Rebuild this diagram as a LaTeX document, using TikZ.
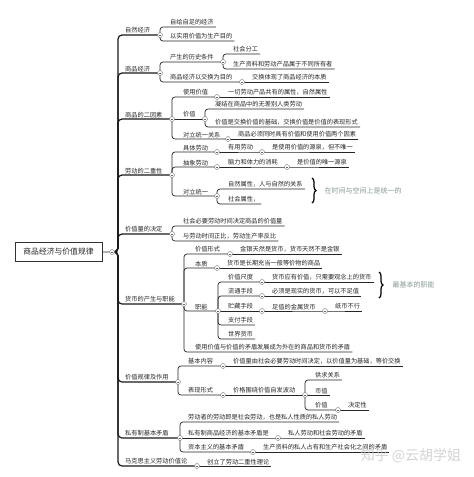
\documentclass[tikz,border=0pt]{standalone}
\usepackage{fontspec}
\setmainfont{Noto Sans CJK SC}
\usetikzlibrary{backgrounds,decorations.pathreplacing}
\definecolor{remarkgray}{RGB}{135,155,146}

\begin{document}
\begin{tikzpicture}[x=1pt, y=-1pt,
  topic/.style={anchor=south west, inner xsep=2pt, inner ysep=1.3pt, text=black!85,
    font=\fontsize{6.2}{7}\selectfont},
  rootbox/.style={draw=black!80, line width=0.6pt, fill=white, minimum width=87pt,
    minimum height=19pt, inner sep=0pt, text=black!85, font=\fontsize{7.8}{9}\selectfont},
  knob/.style={circle, draw=black!55, fill=white, inner sep=0pt, minimum size=5pt, line width=0.4pt,
    path picture={\draw[black!60, line width=0.4pt] ([xshift=1.2pt]path picture bounding box.west)
      -- ([xshift=-1.2pt]path picture bounding box.east);}},
  limb/.style={line width=1.2pt, rounded corners=4pt, black!90},
  twig/.style={line width=0.7pt, rounded corners=3pt, black!85},
  remark/.style={anchor=west, text=remarkgray, font=\fontsize{7}{8}\selectfont},
  hold/.style={decorate, decoration={brace, amplitude=4pt}, line width=1.2pt}]
  \useasboundingbox (0,0) rectangle (474,477);

  % root
  \node[rootbox] (root) at (58.5,251.5) {商品经济与价值规律};
  \node[knob] (r0) at (112,252) {};
  \coordinate (trunk) at (118,252);

  % first level
  \node[topic] (a) at (123,35) {自然经济};          \node[knob] (ka) at (160,35) {};
  \node[topic] (b) at (123,73) {商品经济};          \node[knob] (kb) at (160,73) {};
  \node[topic] (c) at (123,119) {商品的二因素};     \node[knob] (kc) at (172,119) {};
  \node[topic] (d) at (123,175) {劳动的二重性};     \node[knob] (kd) at (172,175) {};
  \node[topic] (e) at (123,234) {价值量的决定};     \node[knob] (ke) at (172,234) {};
  \node[topic] (f) at (123,304) {货币的产生与职能}; \node[knob] (kf) at (184,304) {};
  \node[topic] (g) at (123,382) {价值规律及作用};   \node[knob] (kg) at (178,382) {};
  \node[topic] (h) at (123,438) {私有制基本矛盾};   \node[knob] (kh) at (180,438) {};
  \node[topic] (i) at (123,466) {马克思主义劳动价值论}; \node[knob] (ki) at (197,466) {};

  % 自然经济
  \node[topic] (a1) at (168,27) {自给自足的经济};
  \node[topic] (a2) at (168,41) {以实用价值为生产目的};

  % 商品经济
  \node[topic] (b1) at (168,62) {产生的历史条件};     \node[knob] (kb1) at (223,62) {};
  \node[topic] (b11) at (231,54) {社会分工};
  \node[topic] (b12) at (231,69) {生产资料和劳动产品属于不同所有者};
  \node[topic] (b2) at (168,82) {商品经济以交换为目的}; \node[knob] (kb2) at (242,82) {};
  \node[topic] (b21) at (250,82) {交换体现了商品经济的本质};

  % 商品的二因素
  \node[topic] (c1) at (181,97) {使用价值};           \node[knob] (kc1) at (217,97) {};
  \node[topic] (c11) at (226,97) {一切劳动产品共有的属性，自然属性};
  \node[topic] (c2) at (181,119) {价值};              \node[knob] (kc2) at (205,119) {};
  \node[topic] (c21) at (213,109) {凝结在商品中的无差别人类劳动};
  \node[topic] (c22) at (213,127) {价值是交换价值的基础，交换价值是价值的表现形式};
  \node[topic] (c3) at (181,139) {对立统一关系};       \node[knob] (kc3) at (228,139) {};
  \node[topic] (c31) at (236,139) {商品必须同时具有价值和使用价值两个因素};

  % 劳动的二重性
  \node[topic] (d1) at (181,152) {具体劳动};           \node[knob] (kd1) at (217,152) {};
  \node[topic] (d11) at (226,152) {有用劳动};          \node[knob] (kd11) at (262,152) {};
  \node[topic] (d111) at (270,152) {是使用价值的源泉，但不唯一};
  \node[topic] (d2) at (181,167) {抽象劳动};           \node[knob] (kd2) at (217,167) {};
  \node[topic] (d21) at (226,167) {脑力和体力的消耗};  \node[knob] (kd21) at (287,167) {};
  \node[topic] (d211) at (295,167) {是价值的唯一源泉};
  \node[topic] (d3) at (181,196) {对立统一};           \node[knob] (kd3) at (217,196) {};
  \node[topic] (d31) at (226,189) {自然属性，人与自然的关系};
  \node[topic] (d32) at (226,204) {社会属性，};
  \coordinate (d3top) at (312,178);
  \coordinate (d3bot) at (312,203);
  \node[remark] (d3note) at (321,191) {在时间与空间上是统一的};

  % 价值量的决定
  \node[topic] (e1) at (181,226) {社会必要劳动时间决定商品的价值量};
  \node[topic] (e2) at (181,241) {与劳动时间正比，劳动生产率反比};

  % 货币的产生与职能
  \node[topic] (f1) at (193,254) {价值形式};           \node[knob] (kf1) at (230,254) {};
  \node[topic] (f11) at (238,254) {金银天然是货币，货币天然不是金银};
  \node[topic] (f2) at (193,268) {本质};               \node[knob] (kf2) at (217,268) {};
  \node[topic] (f21) at (225,268) {货币是长期充当一般等价物的商品};
  \node[topic] (f3) at (193,311) {职能};               \node[knob] (kf3) at (218,311) {};
  \node[topic] (f31) at (226,282) {价值尺度};          \node[knob] (kf31) at (262,282) {};
  \node[topic] (f311) at (270,282) {货币应有价值，只需要观念上的货币};
  \node[topic] (f32) at (226,296) {流通手段};          \node[knob] (kf32) at (262,296) {};
  \node[topic] (f321) at (270,296) {必须是现实的货币，可以不足值};
  \node[topic] (f33) at (226,311) {贮藏手段};          \node[knob] (kf33) at (262,311) {};
  \node[topic] (f331) at (270,311) {足值的金属货币};    \node[knob] (kf331) at (325,311) {};
  \node[topic] (f3311) at (333,311) {纸币不行};
  \node[topic] (f34) at (226,325) {支付手段};
  \node[topic] (f35) at (226,339) {世界货币};
  \coordinate (f3top) at (379,272);
  \coordinate (f3bot) at (379,298);
  \node[remark] (f3note) at (389,285) {最基本的职能};
  \node[topic] (f4) at (193,352) {使用价值与价值的矛盾发展成为外在的商品和货币的矛盾};

  % 价值规律及作用
  \node[topic] (g1) at (186,366) {基本内容};           \node[knob] (kg1) at (223,366) {};
  \node[topic] (g11) at (231,366) {价值量由社会必要劳动时间决定，以价值量为基础，等价交换};
  \node[topic] (g2) at (186,395) {表现形式};           \node[knob] (kg2) at (223,395) {};
  \node[topic] (g21) at (231,395) {价格围绕价值自发波动}; \node[knob] (kg21) at (305,395) {};
  \node[topic] (g211) at (313,380) {供求关系};
  \node[topic] (g212) at (313,395) {币值};
  \node[topic] (g213) at (313,410) {价值};             \node[knob] (kg213) at (338,410) {};
  \node[topic] (g2131) at (346,410) {决定性};

  % 私有制基本矛盾
  \node[topic] (h1) at (186,422) {劳动者的劳动即是社会劳动，也是私人性质的私人劳动};
  \node[topic] (h2) at (186,438) {私有制商品经济的基本矛盾是}; \node[knob] (kh2) at (278,438) {};
  \node[topic] (h21) at (286,438) {私人劳动和社会劳动的矛盾};
  \node[topic] (h3) at (186,452) {资本主义的基本矛盾};  \node[knob] (kh3) at (253,452) {};
  \node[topic] (h31) at (261,452) {生产资料的私人占有和生产社会化之间的矛盾};

  % 马克思主义劳动价值论
  \node[topic] (i1) at (205,466) {创立了劳动二重性理论};

  % watermark
  \node[text=gray!40, opacity=0.85, font=\fontsize{14}{16}\selectfont] (mark0) at (411,456) {知乎 @云胡学姐};

  \begin{pgfonlayer}{background}
    \fill[white] (0,0) rectangle (474,477);
    \draw[twig] (root) -- (r0);
    \foreach \k in {ka,kb,kc,kd,ke,kf,kg,kh,ki}
      \draw[limb] (r0.center) -- (trunk) |- (\k.center);
    % 自然经济
    \foreach \c in {a1,a2} \draw[twig] (ka.center) |- (\c.south east);
    % 商品经济
    \foreach \k in {kb1,kb2} \draw[twig] (kb.center) |- (\k.center);
    \foreach \c in {b11,b12} \draw[twig] (kb1.center) |- (\c.south east);
    \draw[twig] (kb2.center) -- (b21.south east);
    % 商品的二因素
    \foreach \k in {kc1,kc3} \draw[twig] (kc.center) |- (\k.center);
    \draw[twig] (kc.center) -- (kc2.center);
    \draw[twig] (kc1.center) -- (c11.south east);
    \foreach \c in {c21,c22} \draw[twig] (kc2.center) |- (\c.south east);
    \draw[twig] (kc3.center) -- (c31.south east);
    % 劳动的二重性
    \foreach \k in {kd1,kd2,kd3} \draw[twig] (kd.center) |- (\k.center);
    \draw[twig] (kd1.center) -- (kd11.center) -- (d111.south east);
    \draw[twig] (kd2.center) -- (kd21.center) -- (d211.south east);
    \foreach \c in {d31,d32} \draw[twig] (kd3.center) |- (\c.south east);
    % 价值量的决定
    \foreach \c in {e1,e2} \draw[twig] (ke.center) |- (\c.south east);
    % 货币的产生与职能
    \foreach \k in {kf1,kf2,kf3} \draw[twig] (kf.center) |- (\k.center);
    \draw[twig] (kf.center) |- (f4.south east);
    \draw[twig] (kf1.center) -- (f11.south east);
    \draw[twig] (kf2.center) -- (f21.south east);
    \foreach \k in {kf31,kf32} \draw[twig] (kf3.center) |- (\k.center);
    \draw[twig] (kf3.center) -- (kf33.center);
    \foreach \c in {f34,f35} \draw[twig] (kf3.center) |- (\c.south east);
    \draw[twig] (kf31.center) -- (f311.south east);
    \draw[twig] (kf32.center) -- (f321.south east);
    \draw[twig] (kf33.center) -- (kf331.center) -- (f3311.south east);
    % 价值规律及作用
    \foreach \k in {kg1,kg2} \draw[twig] (kg.center) |- (\k.center);
    \draw[twig] (kg1.center) -- (g11.south east);
    \draw[twig] (kg2.center) -- (kg21.center);
    \draw[twig] (kg21.center) |- (g211.south east);
    \draw[twig] (kg21.center) -- (g212.south east);
    \draw[twig] (kg21.center) |- (kg213.center);
    \draw[twig] (kg213.center) -- (g2131.south east);
    % 私有制基本矛盾
    \draw[twig] (kh.center) |- (h1.south east);
    \draw[twig] (kh.center) -- (kh2.center) -- (h21.south east);
    \draw[twig] (kh.center) |- (kh3.center);
    \draw[twig] (kh3.center) -- (h31.south east);
    % 马克思主义劳动价值论
    \draw[twig] (ki.center) -- (i1.south east);
  \end{pgfonlayer}

  % braces
  \draw[hold] (d3top) -- (d3bot);
  \draw[hold] (f3top) -- (f3bot);
\end{tikzpicture}
\end{document}
